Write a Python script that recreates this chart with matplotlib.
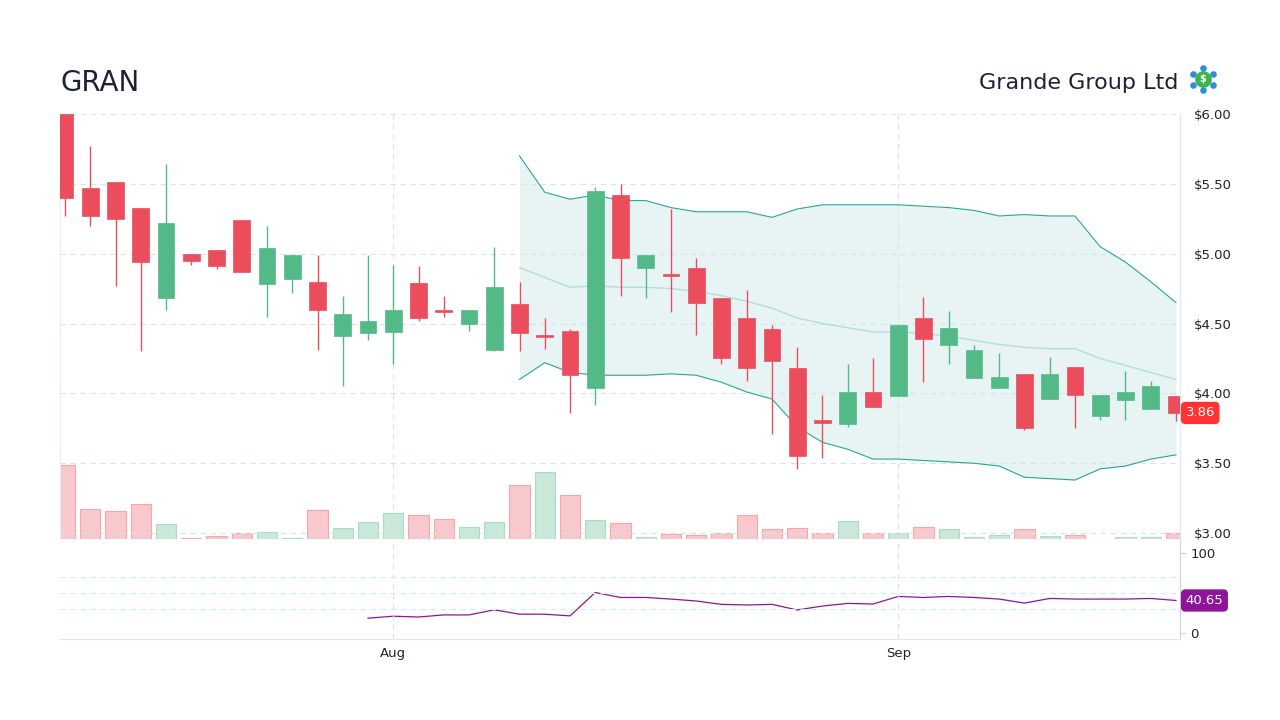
import numpy as np
import matplotlib.pyplot as plt

# OHLC data (45 trading days)
opens = [6.00, 5.47, 5.51, 5.33, 4.68, 5.00, 5.03, 5.24, 4.78, 4.82, 4.80, 4.41, 4.43, 4.44, 4.79,
         4.595, 4.50, 4.31, 4.64, 4.41, 4.45, 4.04, 5.42, 4.90, 4.855, 4.90, 4.68, 4.54, 4.46, 4.18,
         3.81, 3.78, 4.01, 3.98, 4.54, 4.35, 4.11, 4.04, 4.14, 3.96, 4.19, 3.84, 3.95, 3.89, 3.98]
closes = [5.40, 5.27, 5.25, 4.94, 5.22, 4.95, 4.91, 4.87, 5.04, 4.99, 4.60, 4.57, 4.52, 4.60, 4.54,
          4.585, 4.60, 4.76, 4.43, 4.405, 4.13, 5.45, 4.97, 4.99, 4.84, 4.65, 4.25, 4.18, 4.23, 3.55,
          3.79, 4.01, 3.90, 4.49, 4.39, 4.47, 4.31, 4.12, 3.75, 4.14, 3.99, 3.99, 4.01, 4.05, 3.86]
highs = [6.00, 5.77, 5.51, 5.33, 5.64, 5.00, 5.03, 5.24, 5.20, 4.99, 4.99, 4.70, 4.99, 4.92, 4.91,
         4.70, 4.60, 5.05, 4.80, 4.54, 4.46, 5.48, 5.50, 4.99, 5.32, 4.97, 4.68, 4.74, 4.49, 4.33,
         3.99, 4.21, 4.25, 4.50, 4.69, 4.59, 4.35, 4.29, 4.14, 4.26, 4.19, 3.99, 4.16, 4.09, 3.98]
lows = [5.27, 5.20, 4.77, 4.30, 4.60, 4.92, 4.89, 4.87, 4.55, 4.72, 4.31, 4.05, 4.38, 4.21, 4.52,
        4.55, 4.45, 4.30, 4.30, 4.32, 3.86, 3.92, 4.70, 4.68, 4.58, 4.42, 4.21, 4.09, 3.71, 3.46,
        3.54, 3.76, 3.90, 3.98, 4.08, 4.21, 4.11, 4.04, 3.74, 3.96, 3.75, 3.81, 3.81, 3.89, 3.80]
volumes = [216, 87, 81, 102, 45, 3, 10, 18, 21, 3, 84, 33, 48, 75, 69, 57, 36, 48, 156, 195, 129, 54,
           47, 5, 15, 11, 18, 69, 28, 32, 18, 52, 16, 18, 35, 28, 5, 11, 28, 8, 11, 1, 5, 5, 18]
vol_up = [0, 0, 0, 0, 1, 0, 0, 0, 1, 1, 0, 1, 1, 1, 0, 0, 1, 1, 0, 1, 0, 1, 0, 1, 0, 0, 0, 0, 0, 0,
          0, 1, 0, 1, 0, 1, 1, 1, 0, 1, 0, 1, 1, 1, 0]

# Bollinger bands start at day 18
bb_start = 18
bb_upper = [5.70, 5.44, 5.39, 5.42, 5.38, 5.38, 5.33, 5.30, 5.30, 5.30, 5.26, 5.32, 5.35, 5.35,
            5.35, 5.35, 5.34, 5.33, 5.31, 5.27, 5.28, 5.27, 5.27, 5.05, 4.94, 4.80, 4.65]
bb_mid = [4.90, 4.83, 4.76, 4.77, 4.76, 4.76, 4.75, 4.73, 4.70, 4.66, 4.61, 4.54, 4.50, 4.47,
          4.44, 4.44, 4.43, 4.41, 4.38, 4.35, 4.33, 4.32, 4.32, 4.25, 4.20, 4.15, 4.10]
bb_lower = [4.10, 4.22, 4.15, 4.13, 4.13, 4.13, 4.14, 4.13, 4.08, 4.01, 3.96, 3.76, 3.65, 3.60,
            3.53, 3.53, 3.52, 3.51, 3.50, 3.48, 3.40, 3.39, 3.38, 3.46, 3.48, 3.53, 3.56]

# RSI starts at day 12
rsi_start = 12
rsi = [18.5, 21, 20, 22.6, 22.6, 29, 23.5, 23.5, 21.4, 50.6, 44.4, 44.4, 42.4, 40, 35.8, 35, 35.8,
       28.8, 33.7, 37, 36.2, 45.7, 44.4, 45.7, 44.4, 42.4, 37.4, 43.2, 42.4, 42.4, 42.4, 43.2, 40.65]

xtick_pos = [13, 33]
xtick_labels = ['Aug', 'Sep']

GREEN = '#53b987'
RED = '#eb4d5c'
GRID = '#d6e4ea'
TEXT = '#1c2235'

fig = plt.figure(figsize=(12.8, 7.2), dpi=100)
ax = fig.add_axes([60 / 1280, 1 - 539 / 720, 1120 / 1280, 425 / 720])
ax_rsi = fig.add_axes([60 / 1280, 1 - 639 / 720, 1120 / 1280, 100 / 720], sharex=ax)
ax_vol = ax.twinx()

x = np.arange(len(opens))

# bands
bx = x[bb_start:]
ax.fill_between(bx, bb_lower, bb_upper, color='#e8f4f4', zorder=1, lw=0)
ax.plot(bx, bb_upper, color='#26a69a', lw=0.8, zorder=2)
ax.plot(bx, bb_lower, color='#26a69a', lw=0.8, zorder=2)
ax.plot(bx, bb_mid, color='#b2dfdb', lw=1.0, zorder=2)

# candles
w = 0.66
for i in x:
    o, c, h, l = opens[i], closes[i], highs[i], lows[i]
    col = GREEN if c >= o else RED
    ax.vlines(i, l, h, color=col, lw=1, zorder=3)
    bottom = min(o, c)
    height = max(abs(c - o), 0.012)
    ax.bar(i, height, bottom=bottom, width=w, color=col, edgecolor=col, lw=0.5, zorder=4)

# volume
vcols = ['#c9e8d8' if u else '#f9c8cc' for u in vol_up]
vedge = ['#a9dcc3' if u else '#f4a6ad' for u in vol_up]
ax_vol.bar(x, volumes, width=0.8, color=vcols, edgecolor=vedge, lw=0.8, zorder=1)
ax_vol.set_ylim(0, max(volumes) / 0.175)
ax_vol.set_yticks([])
ax_vol.set_zorder(0)
ax.set_zorder(1)
ax.patch.set_visible(False)

ax.set_xlim(-0.2, 44.16)
ax.set_ylim(6 - 425 / 139.7, 6.0)
ax.set_yticks([3.0, 3.5, 4.0, 4.5, 5.0, 5.5, 6.0])
ax.set_yticklabels(['$%.2f' % v for v in [3.0, 3.5, 4.0, 4.5, 5.0, 5.5, 6.0]])
ax.yaxis.tick_right()
ax.tick_params(axis='y', length=0, labelsize=9.5, labelcolor=TEXT, pad=10)
ax.tick_params(axis='x', bottom=False, labelbottom=False)
ax.grid(True, color=GRID, ls=(0, (5, 4)), lw=0.8)
for sp in ['top', 'bottom', 'left']:
    ax.spines[sp].set_visible(False)
    ax_vol.spines[sp].set_visible(False)
ax.spines['right'].set_color('#e0e8ee')
ax_vol.spines['right'].set_color('#e0e8ee')
ax.spines['left'].set_visible(True)
ax.spines['left'].set_color('#e6edf2')

# last price tag
ax.annotate('%.2f' % closes[-1], xy=(1.0, closes[-1]), xycoords=('axes fraction', 'data'),
            xytext=(4, 0), textcoords='offset points', va='center', ha='left', color='white',
            fontsize=9.5, bbox=dict(boxstyle='round,pad=0.3', fc='#ff3333', ec='#ff3333'))

# RSI
ax_rsi.plot(x[rsi_start:], rsi, color='#8e1599', lw=0.9)
ax_rsi.set_ylim(-7.5, 117.5)
ax_rsi.set_yticks([0, 100])
ax_rsi.yaxis.tick_right()
ax_rsi.tick_params(axis='y', labelsize=9.5, labelcolor=TEXT, color='#c8d4dc', length=4)
for lvl in [30, 50, 70]:
    ax_rsi.axhline(lvl, color='#cdeaf5', ls=(0, (5, 4)), lw=0.8)
for xp in xtick_pos:
    ax_rsi.axvline(xp, color=GRID, ls=(0, (5, 4)), lw=0.8)
ax_rsi.set_xticks(xtick_pos)
ax_rsi.set_xticklabels(xtick_labels)
ax_rsi.tick_params(axis='x', length=0, labelsize=9.5, labelcolor=TEXT, pad=6)
for sp in ['top', 'left']:
    ax_rsi.spines[sp].set_visible(False)
ax_rsi.spines['bottom'].set_color('#e0e8ee')
ax_rsi.spines['right'].set_color('#c8d4dc')
ax_rsi.annotate('%.2f' % rsi[-1], xy=(1.0, rsi[-1]), xycoords=('axes fraction', 'data'),
                xytext=(4, 0), textcoords='offset points', va='center', ha='left', color='white',
                fontsize=9.5, bbox=dict(boxstyle='round,pad=0.3', fc='#8e1599', ec='#8e1599'))
ax.set_xticks(xtick_pos)
ax.grid(True, axis='x', color=GRID, ls=(0, (5, 4)), lw=0.8)

# titles
fig.text(60 / 1280, 1 - 83 / 720, 'GRAN', fontsize=20, color=TEXT, va='center', ha='left')
fig.text(1178 / 1280, 1 - 83 / 720, 'Grande Group Ltd', fontsize=16, color=TEXT,
         va='center', ha='right')
# small logo
lx, ly = 1203 / 1280, 1 - 79 / 720
ang = np.linspace(0, 2 * np.pi, 7)[:-1] + np.pi / 6
fig.text(lx + 11 * np.cos(ang[0]) / 1280, 0, '')
dots_x = [lx + 11 * np.cos(a) / 1280 for a in ang]
dots_y = [ly + 11 * np.sin(a) / 720 for a in ang]
lax = fig.add_axes([0, 0, 1, 1], zorder=5)
lax.set_xlim(0, 1)
lax.set_ylim(0, 1)
lax.axis('off')
lax.scatter(dots_x, dots_y, s=14, color='#2a8fe0', zorder=1)
lax.scatter([lx], [ly], s=120, color='#3bb54a', zorder=2)
lax.text(lx, ly, '$', fontsize=7, color='white', ha='center', va='center', fontweight='bold', zorder=3)

fig.savefig('out.png', dpi=100)
